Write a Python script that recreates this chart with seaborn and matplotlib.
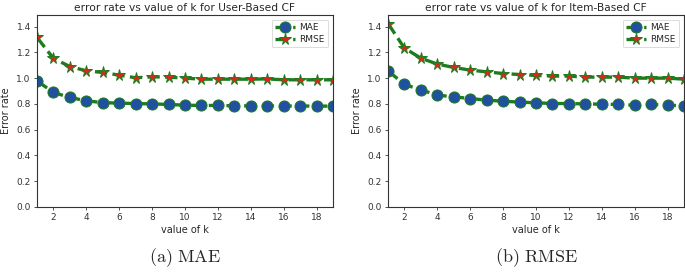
import numpy as np
import pandas as pd
import matplotlib
matplotlib.use("Agg")
import matplotlib.pyplot as plt
import seaborn as sns

k = list(range(1, 20))
user_mae = [0.979, 0.889, 0.850, 0.824, 0.810, 0.806, 0.803, 0.800, 0.796, 0.790,
            0.788, 0.788, 0.785, 0.785, 0.785, 0.784, 0.784, 0.783, 0.783]
user_rmse = [1.316, 1.153, 1.090, 1.057, 1.044, 1.023, 1.003, 1.010, 1.008, 1.000,
             0.992, 0.992, 0.992, 0.992, 0.994, 0.987, 0.987, 0.987, 0.987]
item_mae = [1.057, 0.951, 0.909, 0.868, 0.855, 0.842, 0.829, 0.821, 0.814, 0.809,
            0.803, 0.803, 0.800, 0.798, 0.796, 0.790, 0.796, 0.790, 0.785]
item_rmse = [1.424, 1.233, 1.155, 1.109, 1.083, 1.062, 1.049, 1.036, 1.028, 1.021,
             1.016, 1.016, 1.008, 1.008, 1.008, 1.000, 1.000, 1.000, 0.992]

titles = ["error rate vs value of k for User-Based CF",
          "error rate vs value of k for Item-Based CF"]
captions = ["(a) MAE", "(b) RMSE"]
xticks = [2, 4, 6, 8, 10, 12, 14, 16, 18]
yticks = [0.0, 0.2, 0.4, 0.6, 0.8, 1.0, 1.2, 1.4]

sns.set_style("ticks")
plt.rcParams['font.family'] = ['DejaVu Sans']
plt.rcParams['mathtext.fontset'] = 'cm'

W, H = 685, 272
fig = plt.figure(figsize=(W / 100, H / 100), dpi=100)

green = "#1d7d1d"
blue = "#2150a0"
red = "#d42a1e"

axes_px = [(37, 333), (388, 684)]
top_px, bot_px = 15, 207

datasets = [(user_mae, user_rmse), (item_mae, item_rmse)]
for i, ((l, r), (mae, rmse)) in enumerate(zip(axes_px, datasets)):
    ax = fig.add_axes([l / W, 1 - bot_px / H, (r - l) / W, (bot_px - top_px) / H])
    df = pd.DataFrame({"k": k, "MAE": mae, "RMSE": rmse})
    sns.lineplot(data=df, x="k", y="MAE", ax=ax, color=green, linestyle="--",
                 linewidth=2.4, marker="o", markersize=8, markerfacecolor=blue,
                 markeredgecolor=green, markeredgewidth=0.7, label="MAE")
    sns.lineplot(data=df, x="k", y="RMSE", ax=ax, color=green, linestyle="--",
                 linewidth=2.4, marker="*", markersize=8.5, markerfacecolor=red,
                 markeredgecolor=green, markeredgewidth=0.7, label="RMSE")
    ax.set_xlim(1, 19)
    ax.set_ylim(0, 1.49)
    ax.set_xticks(xticks)
    ax.set_yticks(yticks)
    ax.set_yticklabels([f"{v:.1f}" for v in yticks])
    ax.tick_params(labelsize=6.5, length=2.5, width=0.6, pad=2, colors="#333333")
    for s in ax.spines.values():
        s.set_linewidth(0.8)
        s.set_color("#333333")
    ax.set_title(titles[i], fontsize=7.7, pad=3)
    ax.set_xlabel("value of k", fontsize=7, labelpad=2)
    ax.set_ylabel("Error rate", fontsize=7, labelpad=4)
    leg = ax.legend(loc="upper right", fontsize=6.5, frameon=True, handlelength=2.2,
                    borderpad=0.4, labelspacing=0.3, handletextpad=0.5)
    leg.get_frame().set_linewidth(0.6)
    cx = (l + r) / 2 / W
    fig.text(cx, 1 - 258 / H, r"$\mathrm{" + captions[i].replace(" ", r"\ ") + "}$",
             ha="center", va="center", fontsize=13)

fig.savefig("out.png", dpi=100)
